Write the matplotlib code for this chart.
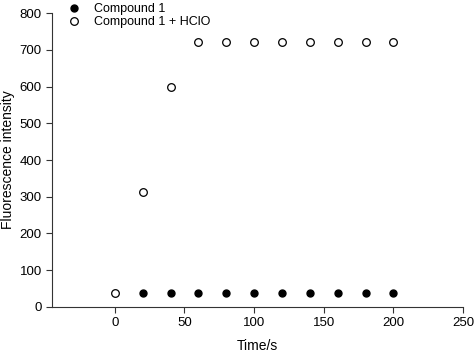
import matplotlib.pyplot as plt

plt.rcParams['font.family'] = ['Liberation Sans', 'DejaVu Sans']

# data
time_plain = [20, 40, 60, 80, 100, 120, 140, 160, 180, 200]
fluor_plain = [38, 38, 38, 38, 38, 38, 38, 38, 38, 38]
time_hclo = [0, 20, 40, 60, 80, 100, 120, 140, 160, 180, 200]
fluor_hclo = [38, 313, 600, 720, 720, 720, 720, 720, 720, 720, 720]

fig = plt.figure(figsize=(4.74, 3.54), dpi=100)
ax = fig.add_axes([0.110, 0.133, 0.867, 0.830])

ax.plot(time_plain, fluor_plain, 'o', color='black', markersize=5,
        label='Compound 1')
ax.plot(time_hclo, fluor_hclo, 'o', markerfacecolor='white',
        markeredgecolor='black', markeredgewidth=0.9, markersize=5.5,
        label='Compound 1 + HClO')

ax.set_xlim(-45, 250)
ax.set_ylim(0, 800)
ax.set_xticks([0, 50, 100, 150, 200, 250])
ax.set_yticks(range(0, 801, 100))

for side in ['top', 'right']:
    ax.spines[side].set_visible(False)
for side in ['left', 'bottom']:
    ax.spines[side].set_color('#333333')
ax.tick_params(direction='out', length=4, labelsize=9.5, width=0.8,
               color='#333333')
ax.set_xlabel('Time/s', fontsize=10, labelpad=7)
ax.set_ylabel('Fluorescence intensity', fontsize=10, labelpad=3)

fig.legend(loc='upper left', bbox_to_anchor=(0.13, 1.005), frameon=False,
           fontsize=9, handlelength=1.2, handletextpad=1.0,
           labelspacing=0.1, borderaxespad=0)

fig.savefig('out.png', dpi=100)
